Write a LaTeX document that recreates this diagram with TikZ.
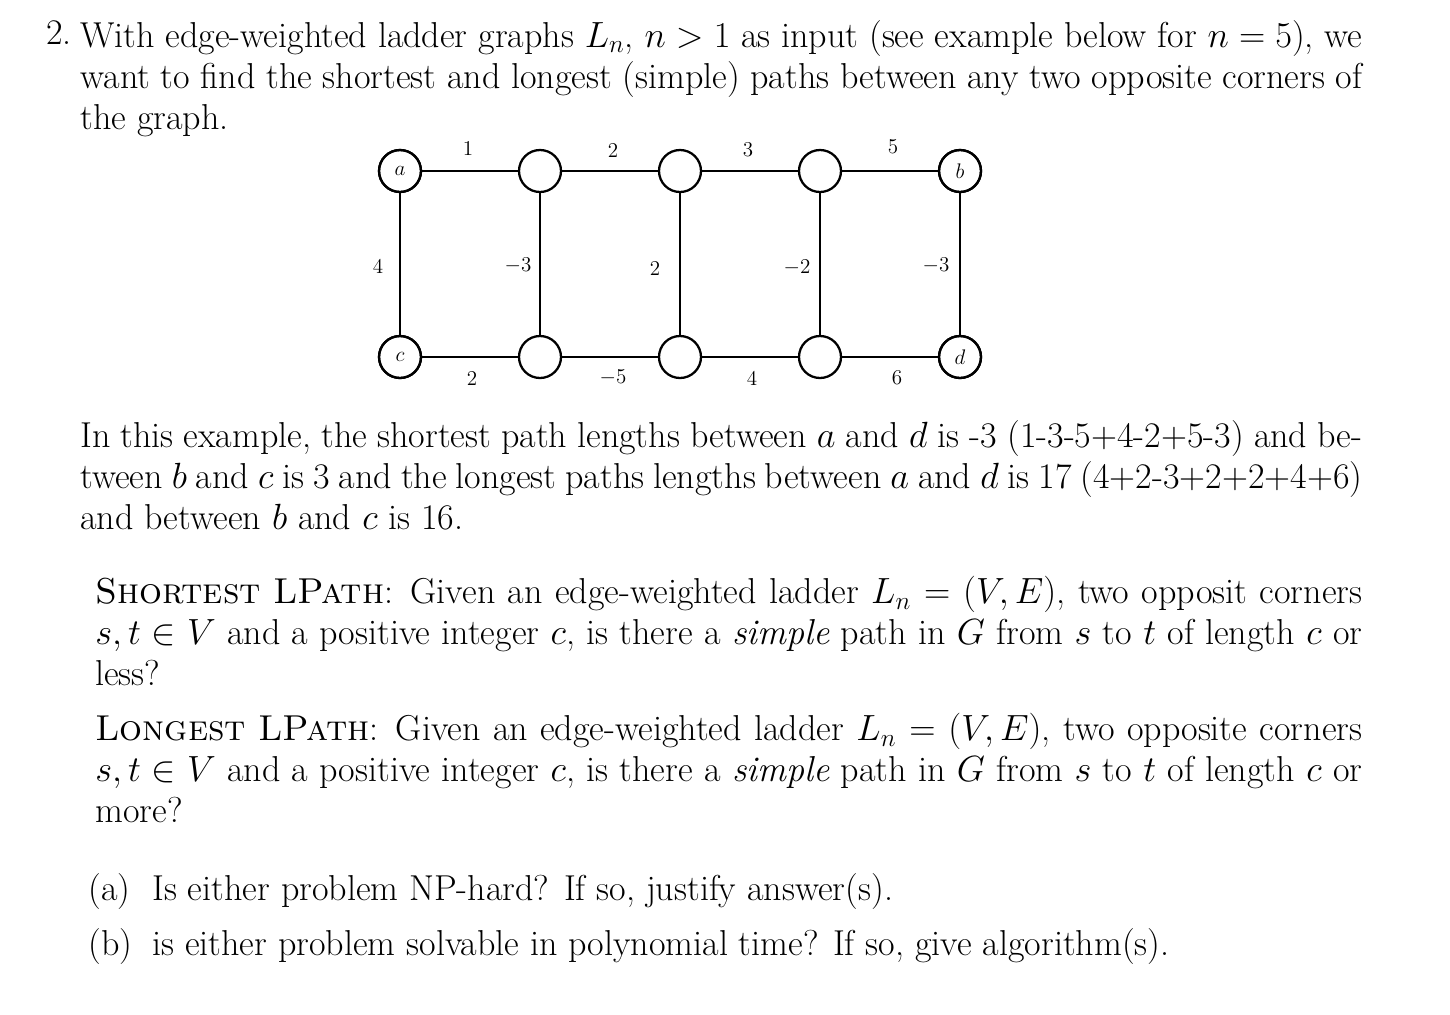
\documentclass[tikz,border=0pt]{standalone}
\usetikzlibrary{positioning}
\newlength\px \setlength\px{0.02cm}
\tikzset{
 vx/.style={draw,line width=1.3pt,circle,minimum size=42\px,inner sep=0pt,font=\fontsize{12}{14}\selectfont},
 ed/.style={line width=1.1pt},
 wl/.style={font=\fontsize{12}{14}\selectfont,inner sep=1pt},
 para/.style={anchor=north west,inner sep=0pt,align=justify,font=\fontsize{20.5}{23.3}\selectfont}
}
\begin{document}
\begin{tikzpicture}[x=0.02cm,y=-0.02cm]
\useasboundingbox (0,0) rectangle (1450,1014);
\node[para,anchor=north east] (num) at (72,20) {2.};
\node[para,text width=1282\px] (p1) at (80,20) {With edge-weighted ladder graphs $L_n$, $n>1$ as input (see example below for $n=5$), we want to find the shortest and longest (simple) paths between any two opposite corners of the graph.};
\foreach \i/\x in {1/400,2/540,3/680,4/820,5/960}{
 \node[vx] (t\i) at (\x,171) {};
 \node[vx] (b\i) at (\x,357) {};
}
\node[vx] at (t1) {$a$};
\node[vx] at (t5) {$b$};
\node[vx] at (b1) {$c$};
\node[vx] at (b5) {$d$};
\foreach \i/\j in {1/2,2/3,3/4,4/5}{
 \draw[ed] (t\i) -- (t\j);
 \draw[ed] (b\i) -- (b\j);
}
\foreach \i in {1,...,5}{\draw[ed] (t\i) -- (b\i);}
\node[wl] (l1) at (468,148) {1};
\node[wl] (l2) at (613,150) {2};
\node[wl] (l3) at (748,150) {3};
\node[wl] (l4) at (893,147) {5};
\node[wl] (v1) at (378,266) {4};
\node[wl] (v2) at (518,266) {$-3$};
\node[wl] (v3) at (655,268) {2};
\node[wl] (v4) at (797,268) {$-2$};
\node[wl] (v5) at (936,266) {$-3$};
\node[wl] (m1) at (472,378) {2};
\node[wl] (m2) at (613,378) {$-5$};
\node[wl] (m3) at (752,378) {4};
\node[wl] (m4) at (897,378) {6};
\node[para,text width=1282\px] (p2) at (80,420) {In this example, the shortest path lengths between $a$ and $d$ is -3 (1-3-5+4-2+5-3) and between $b$ and $c$ is 3 and the longest paths lengths between $a$ and $d$ is 17 (4+2-3+2+2+4+6) and between $b$ and $c$ is 16.};
\node[para,text width=1267\px] (p3) at (95,576) {\textsc{Shortest}\hangindent=57\px\hangafter=1{} \textsc{LPath}: Given an edge-weighted ladder $L_n=(V,E)$, two opposit corners $s,t\in V$ and a positive integer $c$, is there a \emph{simple} path in $G$ from $s$ to $t$ of length $c$ or less?};
\node[para,text width=1267\px] (p4) at (95,713) {\textsc{Longest}\hangindent=57\px\hangafter=1{} \textsc{LPath}: Given an edge-weighted ladder $L_n=(V,E)$, two opposite corners $s,t\in V$ and a positive integer $c$, is there a \emph{simple} path in $G$ from $s$ to $t$ of length $c$ or more?};
\node[para] (ia) at (88,873) {(a)};
\node[para] (ta) at (152,873) {Is either problem NP-hard? If so, justify answer(s).};
\node[para] (ib) at (88,928) {(b)};
\node[para] (tb) at (152,928) {is either problem solvable in polynomial time? If so, give algorithm(s).};
\end{tikzpicture}
\end{document}
